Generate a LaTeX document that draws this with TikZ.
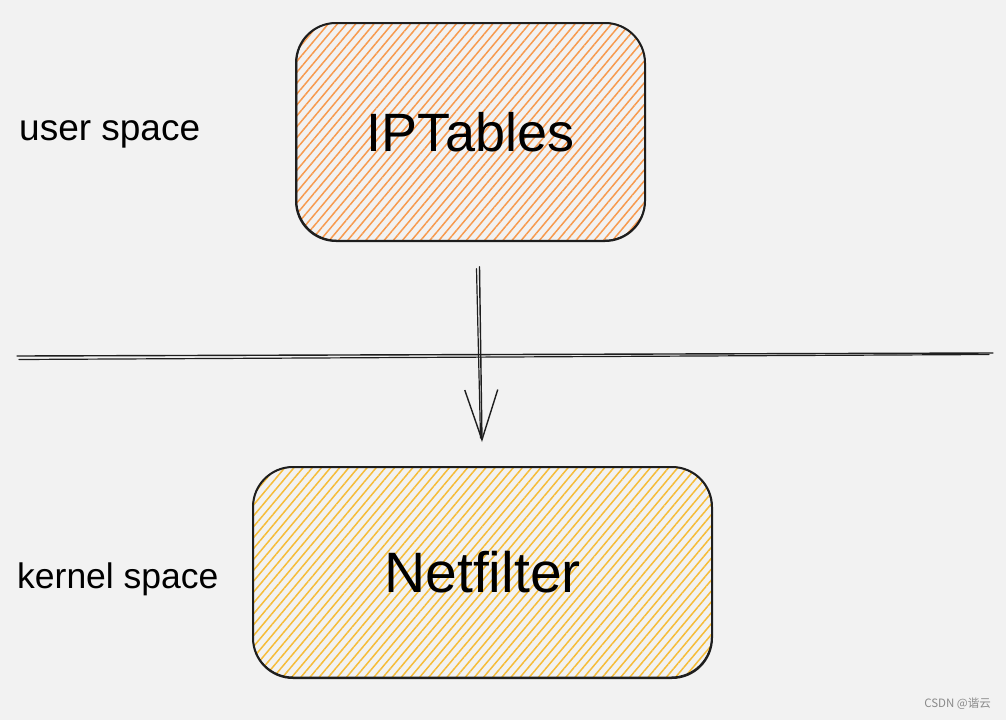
\documentclass[tikz,border=0pt]{standalone}
\usepackage{fontspec}
\setmainfont{Liberation Sans}
\newfontfamily\cjk{Noto Sans CJK SC}
\usetikzlibrary{arrows.meta,patterns.meta,positioning}

\definecolor{paper}{HTML}{F2F2F2}
\definecolor{inkline}{HTML}{1E1E1E}
\definecolor{hatchorange}{HTML}{F79A4E}
\definecolor{hatchyellow}{HTML}{F6BC38}
\definecolor{markgrey}{HTML}{8A8A8A}

\tikzset{
  sketchbox/.style={draw=inkline,line width=2pt,rounded corners=40pt,
    inner sep=0pt,font=\fontsize{54}{60}\selectfont,
    pattern={Lines[angle=50,distance=7pt,line width=1.5pt]}},
  spacelabel/.style={inner sep=0pt,font=\fontsize{37}{42}\selectfont},
  sketchline/.style={draw=inkline,line width=1.4pt,line cap=round},
  sketcharrow/.style={sketchline,-{Straight Barb[length=50pt,width=33pt]}},
  watermark/.style={inner sep=0pt,text=markgrey,font=\cjk\fontsize{11.5}{13}\selectfont}
}

\begin{document}
\begin{tikzpicture}[x=1pt,y=-1pt]
    % page
    \fill[paper] (0,0) rectangle (1006,720);
    \useasboundingbox (0,0) rectangle (1006,720);

    % the two boxes
    \node [sketchbox,pattern color=hatchorange,minimum width=349pt,
    minimum height=218pt] (iptables) at (470.5,132) {IPTables};

    \node [sketchbox,pattern color=hatchyellow,minimum width=459pt,
    minimum height=211pt,font=\fontsize{57}{62}\selectfont]
    (netfilter) at (482.5,572.5) {Netfilter};

    % second pencil stroke round each box
    \draw [inkline,line width=1pt,rounded corners=40pt]
    ([shift={(1.5pt,1.5pt)}]iptables.south west) rectangle
    ([shift={(-1pt,-0.5pt)}]iptables.north east);
    \draw [inkline,line width=1pt,rounded corners=40pt]
    ([shift={(1pt,2pt)}]netfilter.south west) rectangle
    ([shift={(-1.5pt,-1pt)}]netfilter.north east);

    % labels
    \node [spacelabel,anchor=base west] (user) at (19,140) {user space};
    \node [spacelabel,anchor=base west,font=\fontsize{35.5}{40}\selectfont]
    (kernel) at (17,588) {kernel space};

    % user / kernel border
    \coordinate (sepL) at (17,356);
    \coordinate (sepR) at (993,353);
    \draw [sketchline] (sepL) -- (sepR);
    \draw [sketchline,line width=1.2pt] ([shift={(2pt,-3.5pt)}]sepL) --
    ([shift={(-4pt,-1.5pt)}]sepR);

    % call into the kernel
    \draw [sketcharrow] ([xshift=9pt,yshift=-25pt]iptables.south) --
    ([xshift=-0.5pt,yshift=24pt]netfilter.north);
    \draw [sketchline,line width=1.2pt] ([xshift=6pt,yshift=-27pt]iptables.south)
    -- ([xshift=-2pt,yshift=28pt]netfilter.north);

    \node [watermark,anchor=east] (mark) at (991,704) {CSDN @谐云};
\end{tikzpicture}
\end{document}
